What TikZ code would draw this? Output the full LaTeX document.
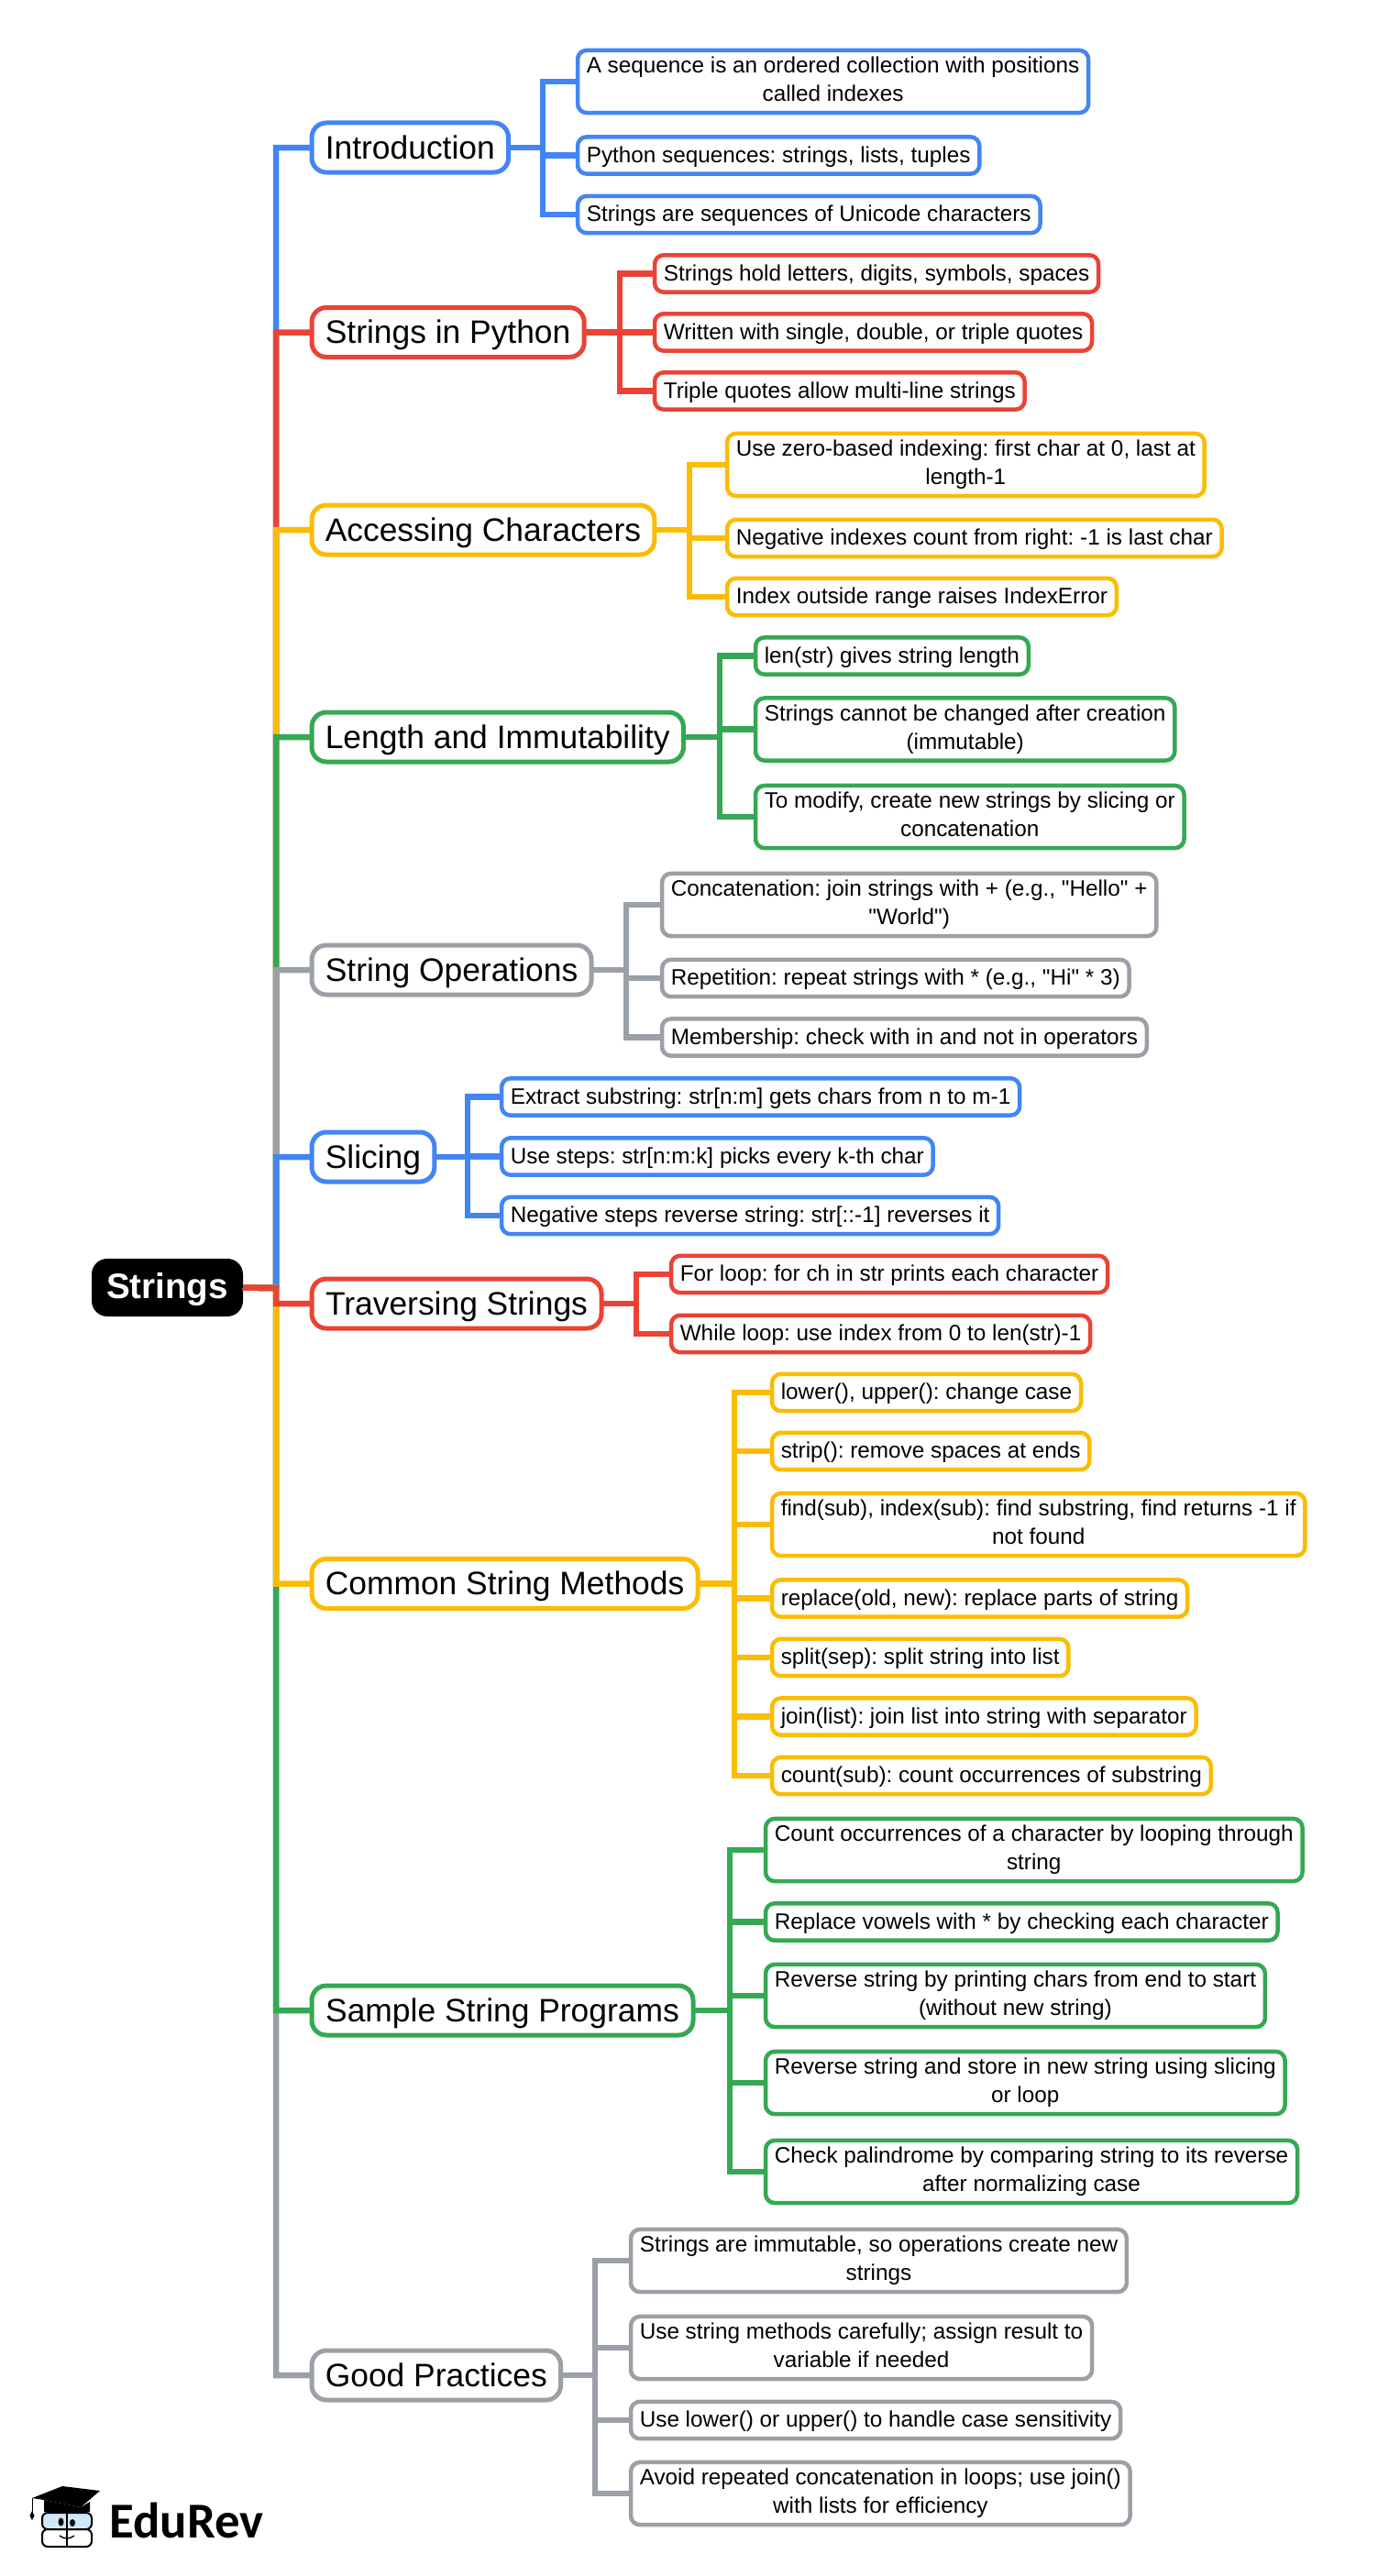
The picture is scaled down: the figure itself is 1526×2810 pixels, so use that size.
\documentclass[tikz,border=0pt]{standalone}
\usepackage{fontspec}
\setmainfont{Liberation Sans}[Ligatures=TeXOff]
\newfontfamily\logofont{Carlito}
\definecolor{cblue}{HTML}{4285F4}
\definecolor{cred}{HTML}{EA4335}
\definecolor{cyel}{HTML}{FBBC04}
\definecolor{cgreen}{HTML}{34A853}
\definecolor{cgray}{HTML}{9AA0A6}
\definecolor{cface}{HTML}{CFE8F7}
\newcommand{\leafstrut}{\rule[-2.7pt]{0pt}{13pt}}
\newcommand{\branchstrut}{\rule[-3.2pt]{0pt}{19.2pt}}
\frenchspacing
\tikzset{
  rootbox/.style={fill=black,text=white,rounded corners=8.5pt,minimum width=82.5pt,minimum height=31.5pt,
    text height=15pt,text depth=3.4pt,font=\fontsize{19.3}{23}\selectfont\bfseries,inner sep=0pt,outer sep=0pt},
  branch/.style={draw=#1,line width=2.5pt,rounded corners=8pt,anchor=west,minimum height=27pt,
    inner xsep=7.4pt,inner ysep=0pt,outer sep=0pt,font=\fontsize{17.7}{21}\selectfont,
    execute at begin node=\branchstrut},
  leaf/.style={draw=#1,line width=2.25pt,rounded corners=5pt,anchor=west,align=center,
    inner xsep=4.9pt,inner ysep=3.6pt,outer sep=0pt,font=\fontsize{12.15}{15.4}\selectfont,
    execute at begin node=\leafstrut,execute at end node=\leafstrut},
  link/.style={line width=3.25pt},
}
\begin{document}
\begin{tikzpicture}[x=0.5pt,y=-0.5pt]
  \useasboundingbox (0,0) rectangle (1526,2810);

  \node[rootbox] (root) at (182.5,1404.5) {Strings};
  \coordinate (trunk) at (301,1405);

  \node[branch=cblue] (b1) at (340,161) {Introduction};
  \node[branch=cred] (b2) at (340,362.5) {Strings in Python};
  \node[branch=cyel,minimum width=186.5pt] (b3) at (340,578) {Accessing Characters};
  \node[branch=cgreen,minimum width=201.5pt] (b4) at (340,804) {Length and Immutability};
  \node[branch=cgray] (b5) at (340,1058) {String Operations};
  \node[branch=cblue] (b6) at (340,1262) {Slicing};
  \node[branch=cred,minimum width=158pt] (b7) at (340,1422) {Traversing Strings};
  \node[branch=cyel,minimum width=210.5pt] (b8) at (340,1727.5) {Common String Methods};
  \node[branch=cgreen,minimum width=208pt] (b9) at (340,2193) {Sample String Programs};
  \node[branch=cgray] (b10) at (340,2591) {Good Practices};

  \coordinate (m1) at (592,161);
  \coordinate (m2) at (676,362.5);
  \coordinate (m3) at (752,578);
  \coordinate (m4) at (785,804);
  \coordinate (m5) at (683,1058);
  \coordinate (m6) at (510,1262);
  \coordinate (m7) at (694,1422);
  \coordinate (m8) at (801,1727.5);
  \coordinate (m9) at (796,2193);
  \coordinate (m10) at (649,2591);

  \node[leaf=cblue] (x11) at (630,89) {A sequence is an ordered collection with positions\\called indexes};
  \node[leaf=cblue] (x12) at (630,169.5) {Python sequences: strings, lists, tuples};
  \node[leaf=cblue] (x13) at (630,234) {Strings are sequences of Unicode characters};

  \node[leaf=cred] (x21) at (714,298.5) {Strings hold letters, digits, symbols, spaces};
  \node[leaf=cred] (x22) at (714,362.5) {Written with single, double, or triple quotes};
  \node[leaf=cred] (x23) at (714,426.5) {Triple quotes allow multi-line strings};

  \node[leaf=cyel] (x31) at (793,507) {Use zero-based indexing: first char at 0, last at\\length-1};
  \node[leaf=cyel] (x32) at (793,587) {Negative indexes count from right: -1 is last char};
  \node[leaf=cyel] (x33) at (793,651) {Index outside range raises IndexError};

  \node[leaf=cgreen] (x41) at (824,715.5) {len(str) gives string length};
  \node[leaf=cgreen] (x42) at (824,795.5) {Strings cannot be changed after creation\\(immutable)};
  \node[leaf=cgreen] (x43) at (824,891) {To modify, create new strings by slicing or\\concatenation};

  \node[leaf=cgray] (x51) at (722,987) {Concatenation: join strings with + (e.g., "Hello" +\\"World")};
  \node[leaf=cgray] (x52) at (722,1067) {Repetition: repeat strings with * (e.g., "Hi" * 3)};
  \node[leaf=cgray] (x53) at (722,1131.5) {Membership: check with in and not in operators};

  \node[leaf=cblue] (x61) at (547,1196.5) {Extract substring: str[n:m] gets chars from n to m-1};
  \node[leaf=cblue] (x62) at (547,1261.5) {Use steps: str[n:m:k] picks every k-th char};
  \node[leaf=cblue] (x63) at (547,1326) {Negative steps reverse string: str[::-1] reverses it};

  \node[leaf=cred] (x71) at (732,1390) {For loop: for ch in str prints each character};
  \node[leaf=cred] (x72) at (732,1455) {While loop: use index from 0 to len(str)-1};

  \node[leaf=cyel] (x81) at (842,1519) {lower(), upper(): change case};
  \node[leaf=cyel] (x82) at (842,1583) {strip(): remove spaces at ends};
  \node[leaf=cyel] (x83) at (842,1663) {find(sub), index(sub): find substring, find returns -1 if\\not found};
  \node[leaf=cyel] (x84) at (842,1743.5) {replace(old, new): replace parts of string};
  \node[leaf=cyel] (x85) at (842,1808) {split(sep): split string into list};
  \node[leaf=cyel] (x86) at (842,1872.5) {join(list): join list into string with separator};
  \node[leaf=cyel] (x87) at (842,1937) {count(sub): count occurrences of substring};

  \node[leaf=cgreen] (x91) at (835,2018) {Count occurrences of a character by looping through\\string};
  \node[leaf=cgreen] (x92) at (835,2096.5) {Replace vowels with * by checking each character};
  \node[leaf=cgreen] (x93) at (835,2177) {Reverse string by printing chars from end to start\\(without new string)};
  \node[leaf=cgreen] (x94) at (835,2272) {Reverse string and store in new string using slicing\\or loop};
  \node[leaf=cgreen] (x95) at (835,2369) {Check palindrome by comparing string to its reverse\\after normalizing case};

  \node[leaf=cgray] (x101) at (688,2466) {Strings are immutable, so operations create new\\strings};
  \node[leaf=cgray] (x102) at (688,2561) {Use string methods carefully; assign result to\\variable if needed};
  \node[leaf=cgray] (x103) at (688,2640) {Use lower() or upper() to handle case sensitivity};
  \node[leaf=cgray] (x104) at (688,2720) {Avoid repeated concatenation in loops; use join()\\with lists for efficiency};

  \foreach \to/\col in {b1/cblue,b2/cred,b3/cyel,b4/cgreen,b5/cgray,b6/cblue,b10/cgray,b9/cgreen,b8/cyel,b7/cred}
    \draw[link,\col] (root.east) -- (trunk) |- (\to.west);

  \foreach \from/\mid/\col/\tolist in {b1/m1/cblue/{x11,x12,x13},b2/m2/cred/{x21,x22,x23},b3/m3/cyel/{x31,x32,x33},
      b4/m4/cgreen/{x41,x42,x43},b5/m5/cgray/{x51,x52,x53},b6/m6/cblue/{x61,x62,x63},b7/m7/cred/{x71,x72},
      b8/m8/cyel/{x81,x82,x83,x84,x85,x86,x87},b9/m9/cgreen/{x91,x92,x93,x94,x95},b10/m10/cgray/{x101,x102,x103,x104}}
    \foreach \to in \tolist
      \draw[link,\col] (\from.east) -- (\mid) |- (\to.west);

  % logo
  \node[anchor=base west,inner sep=0pt,font=\fontsize{27.4}{30}\selectfont\logofont\bfseries] (logo) at (119,2768) {EduRev};
  \fill (35,2725) -- (68,2712) -- (109,2717) -- (88,2735) -- (48,2727) -- cycle;
  \fill (48,2727) -- (88,2735) -- (98,2729) -- (98,2740) -- (48,2740) -- cycle;
  \draw[line width=0.5pt] (35,2725) -- (35,2741);
  \fill (35,2739) -- (37.5,2744) -- (35,2749) -- (32.5,2744) -- cycle;
  \draw[line width=1pt,fill=cface,rounded corners=3pt] (46,2741) rectangle (100,2759);
  \draw[line width=1pt,rounded corners=3pt] (46,2759) rectangle (100,2778);
  \draw[line width=1pt] (73,2740) -- (73,2778);
  \fill (66.5,2751) ellipse [x radius=3,y radius=4.5];
  \fill (79,2752) ellipse [x radius=3,y radius=4];
  \draw[line width=0.7pt] (65,2766) .. controls (70,2770) and (76,2770) .. (81,2766);
\end{tikzpicture}
\end{document}
